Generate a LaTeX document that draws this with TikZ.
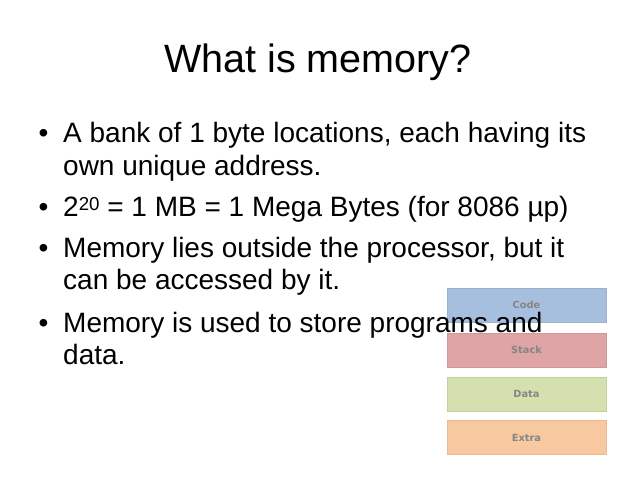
\documentclass[tikz,border=0pt]{standalone}
\usepackage{fontspec}
\setmainfont{Liberation Sans}
\newfontfamily\boxfont{DejaVu Sans}

\definecolor{codecol}{HTML}{A7BFDE}
\definecolor{stackcol}{HTML}{DFA4A5}
\definecolor{datacol}{HTML}{D4E0AE}
\definecolor{extracol}{HTML}{F8C9A0}
\definecolor{labgray}{HTML}{858585}

\begin{document}
\begin{tikzpicture}[
  x=1pt, y=1pt,
  title/.style={inner sep=0pt, anchor=base, font=\fontsize{39.5}{44}\selectfont},
  line/.style={inner sep=0pt, anchor=base west, font=\fontsize{28}{32}\selectfont},
  dot/.style={inner sep=0pt, anchor=base west, font=\fontsize{28}{32}\selectfont},
  segment/.style={draw=#1!93!black, line width=0.4pt, fill=#1, minimum width=159pt,
      minimum height=34pt, inner sep=0pt, text=labgray,
      font=\boxfont\bfseries\fontsize{9.8}{11}\selectfont},
  ]
\useasboundingbox[fill=white] (0,0) rectangle (638,-478);

% memory map
\foreach \name/\lab/\yc in {code/Code/-305, stack/Stack/-350, data/Data/-394, extra/Extra/-437.5}
  \node [segment=\name col] (\name) at (526.5,\yc) {\lab};

\node [title] (head) at (318,-73) {What is memory?};

\node [dot] (b1) at (38.5,-143) {•};
\node [line] (l1) at (63,-143) {A bank of 1 byte locations, each having its};
\node [line] (l2) at (63,-176) {own unique address.};
\node [dot] (b2) at (38.5,-217) {•};
\node [line] (l3) at (63,-217) {2\raisebox{6.5pt}{\fontsize{18.7}{20}\selectfont 20} = 1 MB = 1 Mega Bytes (for 8086 µp)};
\node [dot] (b3) at (38.5,-258) {•};
\node [line] (l4) at (63,-258) {Memory lies outside the processor, but it};
\node [line] (l5) at (63,-290) {can be accessed by it.};
\node [dot] (b4) at (38.5,-333) {•};
\node [line] (l6) at (63,-333) {Memory is used to store programs and};
\node [line] (l7) at (63,-365) {data.};
\end{tikzpicture}
\end{document}
